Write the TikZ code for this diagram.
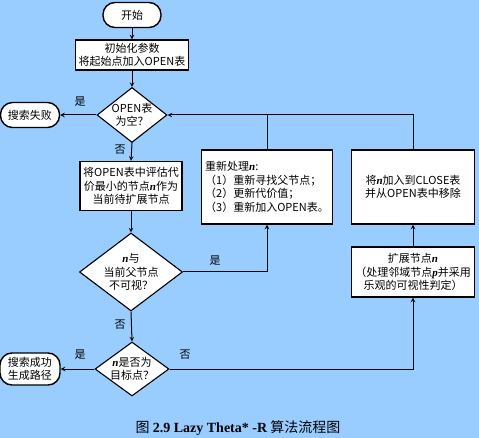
\documentclass[tikz,border=0pt]{standalone}
\usepackage{fontspec}
\setmainfont{Noto Sans CJK SC}
\newfontfamily\capfont{Liberation Serif}
\usetikzlibrary{shapes}
\usetikzlibrary{shapes.geometric}
\usetikzlibrary{arrows}
\definecolor{skyblue}{RGB}{153,204,255}
\newcommand{\nvar}[1]{{\capfont\bfseries\itshape #1}}

\begin{document}
\begin{tikzpicture}
                [x=1pt, y=-1pt, >=stealth,
                 every node/.style={font=\fontsize{11pt}{13.5pt}\selectfont, align=center},
                 term/.style={draw, fill=white, rounded corners=12pt, line width=1.4pt, inner sep=0pt},
                 procbox/.style={draw, fill=white, line width=1.4pt, inner sep=0pt},
                 decide/.style={diamond, draw, fill=white, line width=1.1pt, inner sep=0pt},
                 flow/.style={->, line width=1pt},
                 branch/.style={line width=0.8pt},
                 yesno/.style={inner sep=0pt}]
                \fill[skyblue] (0,0) rectangle (479,438);
                \useasboundingbox (0,0) rectangle (479,438);
                % main column
                \node (start) [term, minimum width=58pt, minimum height=25pt] at (132,15) {开始};
                \node (init) [procbox, minimum width=113pt, minimum height=30pt] at (132,55) {初始化参数\\将起始点加入OPEN表};
                \node (empty) [decide, minimum width=70pt, minimum height=55pt,
                    label={[align=center]center:OPEN表\\为空？}] at (132,115) {};
                \node (fail) [term, minimum width=59pt, minimum height=25pt] at (30,115) {搜索失败};
                \node (select) [procbox, minimum width=102pt, minimum height=49pt] at (131,186) {将OPEN表中评估代\\价最小的节点\nvar{n}作为\\当前待扩展节点};
                \node (visible) [decide, minimum width=103pt, minimum height=78pt,
                    label={[align=center]center:\nvar{n}与\\当前父节点\\不可视？}] at (131,272) {};
                \node (goal) [decide, minimum width=74pt, minimum height=54pt,
                    label={[align=center]center:\nvar{n}是否为\\目标点？}] at (132,369) {};
                \node (success) [term, minimum width=60pt, minimum height=32pt] at (30,369) {搜索成功\\生成路径};
                % right column
                \node (redo) [procbox, minimum width=131pt, minimum height=74pt, align=left] at (267,187) {重新处理\nvar{n}:\\（1）重新寻找父节点；\\（2）更新代价值；\\（3）重新加入OPEN表。};
                \node (close) [procbox, minimum width=123pt, minimum height=74pt] at (413,187) {将\nvar{n}加入到CLOSE表\\并从OPEN表中移除};
                \node (expand) [procbox, minimum width=123pt, minimum height=50pt] at (413,272) {扩展节点\nvar{n}\\（处理邻域节点\nvar{p}并采用\\乐观的可视性判定）};
                % connectors
                \draw[flow] (start) -- (init);
                \draw[flow] (init) -- (empty);
                \draw[flow] (empty.west) -- (fail.east);
                \draw[flow] (empty.south) -- (select.north);
                \draw[flow] (select) -- (visible);
                \draw[flow] (visible.south) -- (goal.north);
                \draw[flow] (goal.west) -- (success.east);
                \draw[flow] (visible.east) -| (redo.south);
                \draw[flow] (goal.east) -| (expand.south);
                \draw[flow] (expand.north) -- (close.south);
                \draw[flow] (close.north) |- (empty.east);
                \draw[branch] (redo.north) -- (redo.north |- empty.east);
                % yes / no
                \node[yesno] at (80,102) {是};
                \node[yesno] at (120,150) {否};
                \node[yesno] at (215,261) {是};
                \node[yesno] at (120,325) {否};
                \node[yesno] at (80,355) {是};
                \node[yesno] at (185,355) {否};
                % caption
                \node (caption) [font=\fontsize{14pt}{16pt}\selectfont] at (238,428) {图 {\capfont\bfseries 2.9 Lazy Theta* -R} 算法流程图};
            \end{tikzpicture}
\end{document}
